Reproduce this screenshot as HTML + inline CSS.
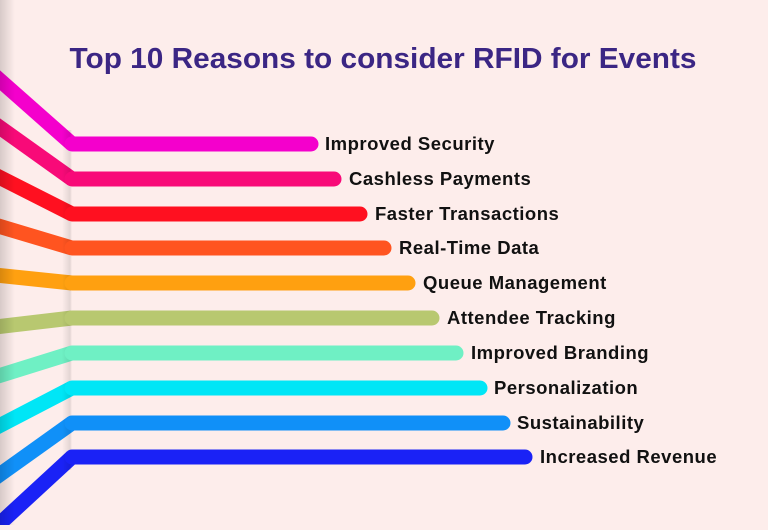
<!DOCTYPE html>
<html><head><style>
body{margin:0;width:768px;height:525px;overflow:hidden;background:#fdedeb;font-family:"Liberation Sans",sans-serif;}
</style></head><body>
<svg width="768" height="525" viewBox="0 0 768 525" xmlns="http://www.w3.org/2000/svg">
<defs>
<linearGradient id="lg" x1="0" x2="1" y1="0" y2="0">
<stop offset="0" stop-color="#000" stop-opacity="0.15"/>
<stop offset="0.6" stop-color="#000" stop-opacity="0"/>
</linearGradient>
<linearGradient id="sh" x1="0" x2="1" y1="0" y2="0">
<stop offset="0" stop-color="#000" stop-opacity="0"/>
<stop offset="0.8" stop-color="#000" stop-opacity="0.1"/>
<stop offset="1" stop-color="#000" stop-opacity="0"/>
</linearGradient>
</defs>
<rect width="768" height="525" fill="#fdedeb"/>
<text x="383" y="68" text-anchor="middle" font-size="29" font-weight="bold" fill="#3b2684" textLength="627" lengthAdjust="spacingAndGlyphs">Top 10 Reasons to consider RFID for Events</text>
<g stroke-width="15" fill="none" stroke-linecap="butt">
<path d="M-5 76 L72 144" stroke="#f400cc"/>
<path d="M-5 124 L72 179" stroke="#f80a78"/>
<path d="M-5 175 L72 214" stroke="#ff1020"/>
<path d="M-5 225 L72 248" stroke="#ff5420"/>
<path d="M-5 275 L72 283" stroke="#ffa010"/>
<path d="M-5 327 L72 318" stroke="#b8c870"/>
<path d="M-5 377 L72 353" stroke="#6ff0c4"/>
<path d="M-5 428 L72 388" stroke="#00e6f6"/>
<path d="M-5 478 L72 423" stroke="#1090f8"/>
<path d="M-5 528 L72 457" stroke="#1a22f6"/>
</g>
<rect x="0" y="0" width="25" height="525" fill="url(#lg)"/>
<rect x="62" y="130" width="10" height="340" fill="url(#sh)"/>
<g stroke-width="15" stroke-linecap="round">
<line x1="72" y1="144" x2="311" y2="144" stroke="#f400cc"/>
<line x1="72" y1="179" x2="334" y2="179" stroke="#f80a78"/>
<line x1="72" y1="214" x2="360" y2="214" stroke="#ff1020"/>
<line x1="72" y1="248" x2="384" y2="248" stroke="#ff5420"/>
<line x1="72" y1="283" x2="408" y2="283" stroke="#ffa010"/>
<line x1="72" y1="318" x2="432" y2="318" stroke="#b8c870"/>
<line x1="72" y1="353" x2="456" y2="353" stroke="#6ff0c4"/>
<line x1="72" y1="388" x2="480" y2="388" stroke="#00e6f6"/>
<line x1="72" y1="423" x2="503" y2="423" stroke="#1090f8"/>
<line x1="72" y1="457" x2="525" y2="457" stroke="#1a22f6"/>
</g>
<g font-size="18.5" font-weight="bold" fill="#111" letter-spacing="0.5">
<text x="325" y="150">Improved Security</text>
<text x="349" y="185">Cashless Payments</text>
<text x="375" y="220">Faster Transactions</text>
<text x="399" y="254">Real-Time Data</text>
<text x="423" y="289">Queue Management</text>
<text x="447" y="324">Attendee Tracking</text>
<text x="471" y="359">Improved Branding</text>
<text x="494" y="394">Personalization</text>
<text x="517" y="429">Sustainability</text>
<text x="540" y="463">Increased Revenue</text>
</g>
</svg>
</body></html>
